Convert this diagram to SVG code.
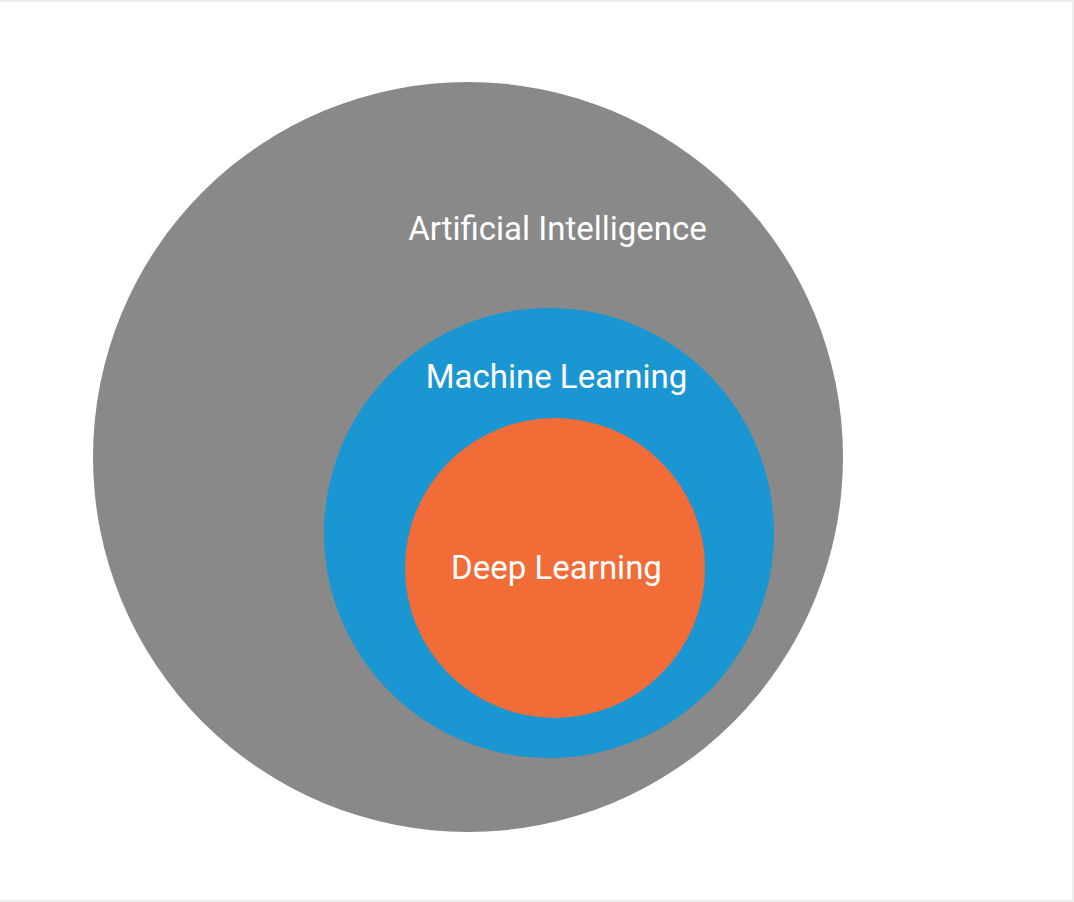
<svg xmlns="http://www.w3.org/2000/svg" width="1074" height="902" viewBox="0 0 1074 902">
<style>
.lbl{font-family:Roboto,"Liberation Sans",sans-serif;font-size:33px;fill:#ffffff;text-anchor:middle}
</style>
<rect x="0" y="0" width="1074" height="902" fill="#ffffff"/>
<g id="frame" fill="#eeeeee">
<rect x="0" y="0" width="1074" height="2"/>
<rect x="1072" y="0" width="2" height="902"/>
<rect x="0" y="900" width="1074" height="2"/>
</g>
<g id="ai">
<circle cx="468" cy="457" r="375" fill="#898989"/>
<text class="lbl" x="557.5" y="240">Artificial Intelligence</text>
</g>
<g id="ml">
<circle cx="549" cy="533" r="225" fill="#1a96d3"/>
<text class="lbl" x="556.5" y="388">Machine Learning</text>
</g>
<g id="dl">
<circle cx="555" cy="568" r="150" fill="#f26c37"/>
<text class="lbl" x="556.5" y="579">Deep Learning</text>
</g>
<g id="connectors"/>
</svg>
